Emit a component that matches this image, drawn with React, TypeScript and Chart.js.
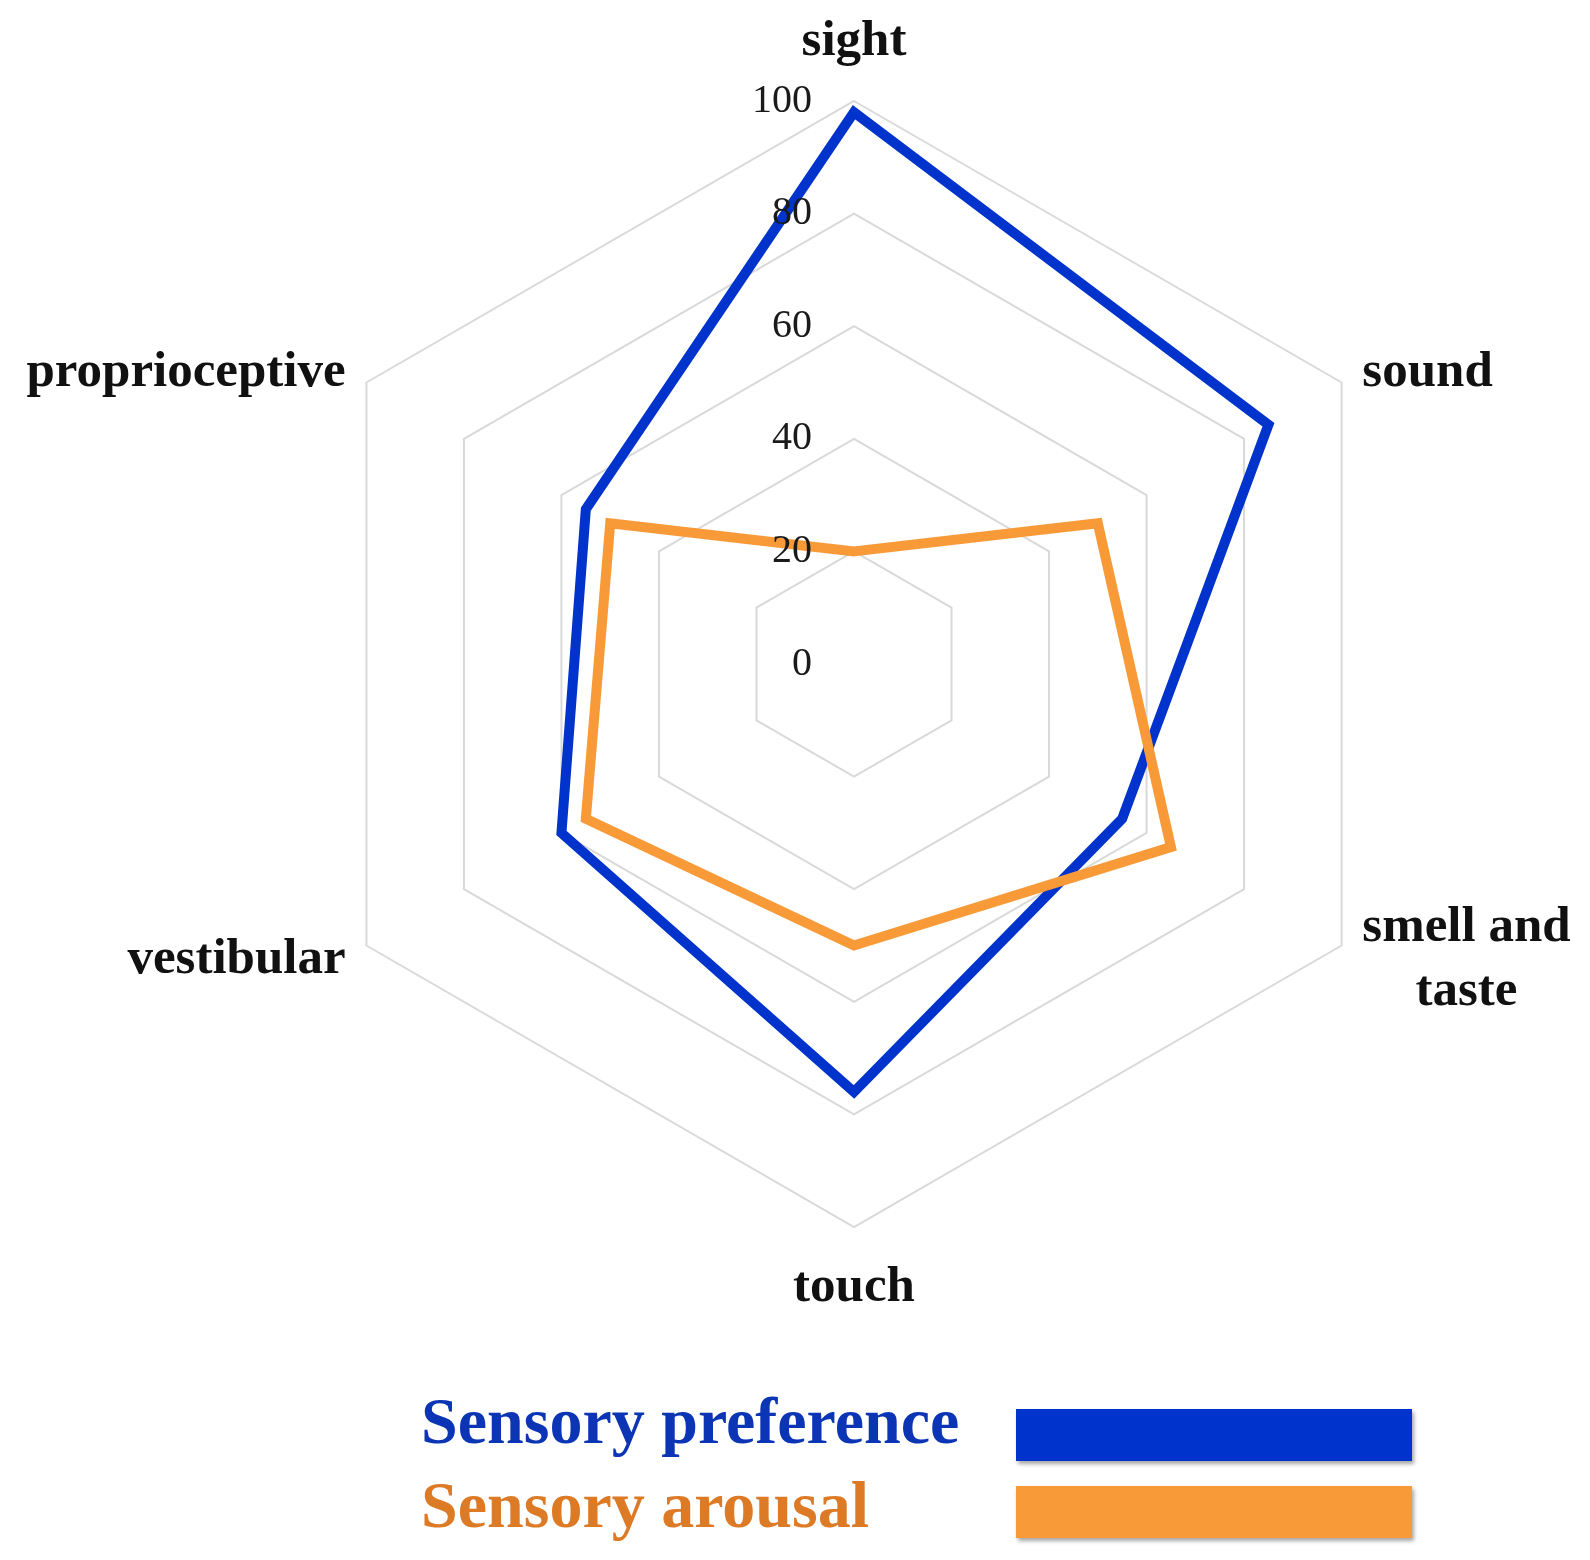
import React, { useEffect, useRef } from "react";
import { Chart, registerables } from "chart.js";

Chart.register(...registerables);

const categories: string[][] = [
  ["sight"],
  ["sound"],
  ["smell and", "taste"],
  ["touch"],
  ["vestibular"],
  ["proprioceptive"],
];
const preferenceValues = [98, 85, 55, 76, 60, 55];
const arousalValues = [20, 50, 65, 50, 55, 50];
const tickValues = [0, 20, 40, 60, 80, 100];
const seriesNames = ["Sensory preference", "Sensory arousal"];

const BLUE = "#0033cc";
const ORANGE = "#f99a38";
const BLUE_TEXT = "#0b35b5";
const ORANGE_TEXT = "#dc7a26";

const overlayPlugin = {
  id: "overlay",
  afterDraw(chart: any) {
    const ctx = chart.ctx as CanvasRenderingContext2D;
    const scale = chart.scales.r;
    const cx = scale.xCenter;
    const cy = scale.yCenter;
    ctx.save();

    // tick labels
    ctx.font = "40px 'Liberation Serif'";
    ctx.fillStyle = "#1a1a1a";
    ctx.textAlign = "right";
    ctx.textBaseline = "middle";
    tickValues.forEach((v) => {
      const d = scale.getDistanceFromCenterForValue(v);
      ctx.fillText(String(v), cx - 42, cy - d);
    });

    // point labels
    ctx.font = "bold 51px 'Liberation Serif'";
    ctx.fillStyle = "#111111";
    ctx.textBaseline = "alphabetic";
    ctx.textAlign = "left";
    const lineH = 64;
    (chart.data.labels as any[]).forEach((lab, i) => {
      const lines: string[] = Array.isArray(lab) ? lab : [lab];
      const p = scale.getPointPosition(i, scale.drawingArea + 24);
      const dx = p.x - cx;
      const widths = lines.map((l) => ctx.measureText(l).width);
      const maxW = Math.max(...widths);
      let firstBaseline: number;
      if (Math.abs(dx) < 1) {
        firstBaseline = p.y < cy ? p.y - 22 - (lines.length - 1) * lineH : p.y + 50;
      } else {
        firstBaseline = p.y + 15 - ((lines.length - 1) * lineH) / 2;
      }
      lines.forEach((l, k) => {
        let x: number;
        if (Math.abs(dx) < 1) x = p.x - widths[k] / 2;
        else if (dx > 0) x = p.x + (maxW - widths[k]) / 2;
        else x = p.x - maxW + (maxW - widths[k]) / 2;
        ctx.fillText(l, x, firstBaseline + k * lineH);
      });
    });

    // legend
    const textColors = [BLUE_TEXT, ORANGE_TEXT];
    ctx.font = "bold 66px 'Liberation Serif'";
    chart.data.datasets.forEach((ds: any, i: number) => {
      ctx.fillStyle = textColors[i];
      ctx.fillText(ds.label, 421, 1443 + i * 84);
      ctx.save();
      ctx.shadowColor = "rgba(0,0,0,0.35)";
      ctx.shadowBlur = 4;
      ctx.shadowOffsetX = 2;
      ctx.shadowOffsetY = 3;
      ctx.fillStyle = ds.borderColor;
      ctx.fillRect(1016, 1409 + i * 77, 396, 52);
      ctx.restore();
    });

    ctx.restore();
  },
};

export default function App() {
  const canvasRef = useRef<HTMLCanvasElement | null>(null);

  useEffect(() => {
    if (!canvasRef.current) return;
    const chart = new Chart(canvasRef.current, {
      type: "radar",
      data: {
        labels: categories,
        datasets: [
          {
            label: seriesNames[0],
            data: preferenceValues,
            borderColor: BLUE,
            backgroundColor: "transparent",
            borderWidth: 10,
            pointRadius: 0,
            fill: false,
            borderJoinStyle: "miter",
            order: 1,
          },
          {
            label: seriesNames[1],
            data: arousalValues,
            borderColor: ORANGE,
            backgroundColor: "transparent",
            borderWidth: 10,
            pointRadius: 0,
            fill: false,
            borderJoinStyle: "miter",
            order: 0,
          },
        ],
      },
      options: {
        animation: false,
        responsive: false,
        layout: { padding: { left: 291, right: 173, top: 101, bottom: 333 } },
        plugins: { legend: { display: false }, tooltip: { enabled: false } },
        scales: {
          r: {
            min: 0,
            max: 100,
            ticks: { stepSize: 20, display: false },
            pointLabels: { display: false },
            grid: { color: "#d9d9d9", lineWidth: 2 },
            angleLines: { display: false },
          },
        },
      } as any,
      plugins: [overlayPlugin],
    });
    return () => chart.destroy();
  }, []);

  return (
    <div style={{ position: "absolute", left: 0, top: 0, width: 1590, height: 1560, background: "#fff" }}>
      <canvas ref={canvasRef} width={1590} height={1560} style={{ display: "block", width: 1590, height: 1560 }} />
    </div>
  );
}
